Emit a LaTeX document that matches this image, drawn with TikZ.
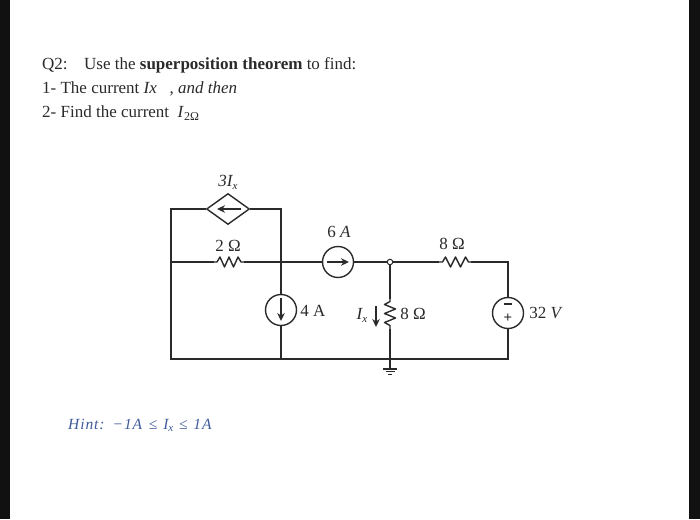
\documentclass[tikz,border=0pt]{standalone}
\usepackage{fontspec}
\setmainfont{Liberation Serif}
\newfontfamily\hintfont[LetterSpace=6]{Liberation Serif}
\usetikzlibrary{shapes.geometric,arrows.meta,decorations.pathmorphing}
\definecolor{inkc}{HTML}{2A2A2A}
\definecolor{barc}{HTML}{111111}
\definecolor{hintc}{HTML}{3F5A9A}
\tikzset{
  wire/.style={draw=inkc,line width=1.6pt},
  src/.style={circle,draw=inkc,line width=1.4pt,minimum size=31pt,inner sep=0pt,fill=white},
  dep/.style={diamond,draw=inkc,line width=1.4pt,minimum width=43pt,minimum height=31pt,inner sep=0pt,fill=white},
  pt/.style={circle,draw=inkc,line width=1pt,fill=white,minimum size=5.5pt,inner sep=0pt},
  lab/.style={inner sep=0pt,text=inkc,font=\fontsize{17}{17}\selectfont},
  ilab/.style={lab,font=\fontsize{17}{17}\selectfont\itshape},
  txt/.style={inner sep=0pt,anchor=base west,text=inkc,font=\fontsize{17}{17}\selectfont},
  tip/.style={-{Stealth[length=8pt,width=7.5pt]},draw=inkc,line width=1.3pt},
  res/.style={draw=inkc,line width=1.4pt,line join=round}
}
\begin{document}
\begin{tikzpicture}[x=1pt,y=-1pt]
\useasboundingbox (0,0) rectangle (700,519);
\fill[barc] (0,0) rectangle (10,519);
\fill[barc] (689,0) rectangle (700,519);
% text
\node[txt] (q) at (42,69) {Q2:};
\node[txt] (q2) at (84,69) {Use the \textbf{superposition theorem} to find:};
\node[txt] (l1) at (42,93) {1- The current \textit{Ix}\ \ \ , \textit{and then}};
\node[txt] (l2) at (42,117) {2- Find the current\ \ \textit{I}\raisebox{-3pt}{\fontsize{12}{12}\selectfont 2Ω}};
\node[inner sep=0pt,anchor=base west,text=hintc,font=\fontsize{15.5}{15.5}\selectfont\hintfont\itshape] (hint) at (68,429) {Hint:\hspace{8pt}−1A\hspace{2pt} ≤ \hspace{1pt}I\raisebox{-2.5pt}{\fontsize{11}{11}\selectfont x}\hspace{1pt} ≤ \hspace{1pt}1A};
% coordinates
\coordinate (tl) at (171,209);
\coordinate (tr) at (281,209);
\coordinate (ml) at (171,262);
\coordinate (mj) at (281,262);
\coordinate (bl) at (171,359);
\coordinate (bj) at (281,359);
\coordinate (bn) at (390,359);
\coordinate (br) at (508,359);
\coordinate (mr) at (508,262);
\coordinate (gnd) at (390,369);
\coordinate (r2a) at (214,262);
\coordinate (r2b) at (244,262);
\coordinate (r8a) at (439,262);
\coordinate (r8b) at (471,262);
\coordinate (rva) at (390,299);
\coordinate (rvb) at (390,329);
% elements
\node[dep] (d) at (228,209) {};
\node[src] (s4) at (281,310) {};
\node[src] (s6) at (338,262) {};
\node[src] (v) at (508,313) {};
\node[pt] (n) at (390,262) {};
% wires
\draw[wire] (d.west) -- (tl) -- (bl) -- (bj) -- (bn) -- (br) -- (v.south);
\draw[wire] (d.east) -- (tr) -- (mj) -- (s4.north);
\draw[wire] (s4.south) -- (bj);
\draw[wire] (ml) -- (r2a);
\draw[wire] (r2b) -- (mj) -- (s6.west);
\draw[wire] (s6.east) -- (n.west);
\draw[wire] (n.east) -- (r8a);
\draw[wire] (r8b) -- (mr) -- (v.north);
\draw[wire] (n.south) -- (rva);
\draw[wire] (rvb) -- (bn) -- (gnd);
% resistors
\draw[res] (r2a) -- ++(3,0) -- ++(3,-5) -- ++(4.5,10) -- ++(4.5,-10) -- ++(4.5,10) -- ++(4.5,-10) -- ++(3,5) -- (r2b);
\draw[res] (r8a) -- ++(3.5,0) -- ++(3,-5) -- ++(5,10) -- ++(5,-10) -- ++(5,10) -- ++(5,-10) -- ++(3,5) -- (r8b);
\draw[res] (rva) -- ++(0,2.5) -- ++(-5.5,3) -- ++(11,4.5) -- ++(-11,4.5) -- ++(11,4.5) -- ++(-11,4.5) -- ++(5.5,3) -- (rvb);
% ground
\draw[draw=inkc,line width=1.1pt] ([xshift=-7pt]gnd) -- ([xshift=7pt]gnd);
\draw[draw=inkc,line width=0.9pt] ([xshift=-4.5pt,yshift=-2.5pt]gnd) -- ([xshift=4.5pt,yshift=-2.5pt]gnd);
\draw[draw=inkc,line width=0.8pt] ([xshift=-2pt,yshift=-5pt]gnd) -- ([xshift=2pt,yshift=-5pt]gnd);
% arrows in symbols
\draw[tip] ([xshift=13pt]d.center) -- ([xshift=-11pt]d.center);
\draw[tip] ([yshift=12pt]s4.center) -- ([yshift=-11pt]s4.center);
\draw[tip] ([xshift=-11pt]s6.center) -- ([xshift=11pt]s6.center);
\coordinate (ia) at (376,306);
\coordinate (ib) at (376,327);
\draw[tip] (ia) -- (ib);
% voltage polarity
\draw[draw=inkc,line width=1.4pt] ([xshift=-4pt,yshift=9pt]v.center) -- ([xshift=4pt,yshift=9pt]v.center);
\node[lab,font=\bfseries\fontsize{15}{15}\selectfont] (vp) at (508,318) {+};
% labels
\node[ilab] (ldep) at (228,182) {3I\raisebox{-3pt}{\fontsize{11}{11}\selectfont x}};
\node[lab] (l2o) at (228,246) {2 Ω};
\node[lab] (l4a) at (313,311) {4 A};
\node[lab] (l6a) at (339,232) {6 \textit{A}};
\node[lab] (l8h) at (452,244) {8 Ω};
\node[lab] (l8v) at (413,314) {8 Ω};
\node[ilab] (lix) at (362,315) {I\raisebox{-3pt}{\fontsize{11}{11}\selectfont x}};
\node[lab] (l32) at (546,313) {32 \textit{V}};
\end{tikzpicture}
\end{document}
